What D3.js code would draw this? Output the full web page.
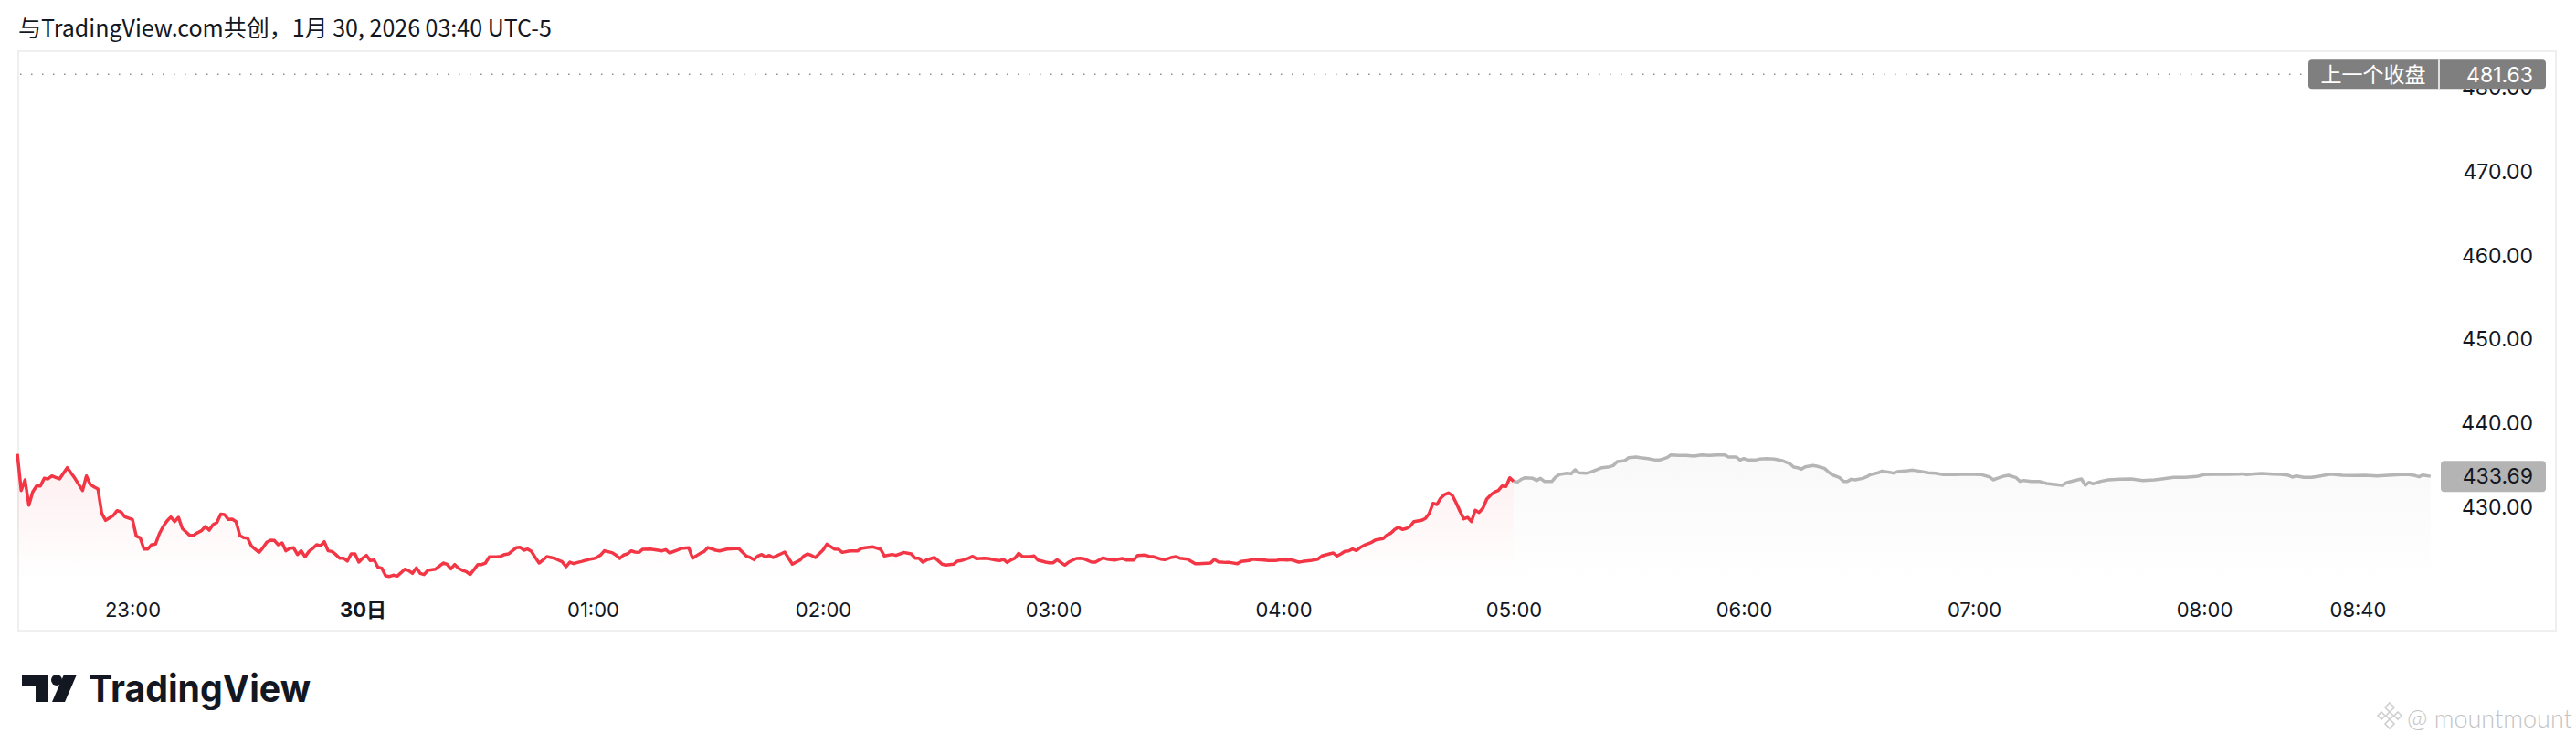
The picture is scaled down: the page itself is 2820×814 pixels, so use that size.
<!DOCTYPE html>
<html><head><meta charset="utf-8">
<script src="https://cdn.jsdelivr.net/npm/d3@7"></script>
<style>html,body{margin:0;padding:0;background:#fff;} svg{display:block;}</style>
</head><body>
<script>
// ---------------- data ----------------
const titleText = "与TradingView.com共创，1月 30, 2026 03:40 UTC-5";

const redTimes = ["22:30","22:31","22:32","22:33","22:34","22:35","22:36","22:37","22:38","22:39","22:40","22:41","22:43","22:45","22:47","22:48","22:49","22:50","22:51","22:52","22:53","22:55","22:56","22:57","22:58",
"23:00","23:01","23:02","23:03","23:04","23:05","23:06","23:07","23:08","23:09","23:10","23:11","23:12","23:13","23:15","23:16","23:17","23:18","23:19","23:20","23:21","23:22","23:23","23:24","23:25","23:26","23:27","23:28","23:29","23:30","23:31","23:33","23:34","23:35","23:36","23:37","23:38","23:39","23:40","23:41","23:42","23:43","23:44","23:45","23:46","23:47","23:48","23:49","23:50","23:51","23:52","23:53","23:54","23:55","23:56","23:57","23:58","23:59",
"00:00","00:01","00:02","00:03","00:04","00:05","00:06","00:07","00:08","00:09","00:10","00:11","00:12","00:13","00:14","00:15","00:16","00:17","00:19","00:20","00:21","00:22","00:23","00:24","00:25","00:26","00:27","00:28","00:29","00:30","00:31","00:32","00:33","00:35","00:36","00:37","00:38","00:40","00:41","00:42","00:43","00:44","00:45","00:46","00:47","00:48","00:50","00:51","00:52","00:53","00:54","00:55","00:56","00:57","00:59",
"01:00","01:01","01:02","01:03","01:05","01:06","01:07","01:08","01:09","01:10","01:11","01:12","01:13","01:15","01:17","01:18","01:19","01:20","01:22","01:23","01:25","01:26","01:28","01:29","01:30","01:32","01:33","01:35","01:37","01:38","01:40","01:41","01:42","01:43","01:44","01:45","01:46","01:47","01:49","01:50","01:52","01:54","01:55","01:56","01:57","01:58",
"02:00","02:01","02:03","02:04","02:05","02:07","02:09","02:10","02:11","02:13","02:15","02:16","02:18","02:19","02:20","02:21","02:23","02:24","02:25","02:26","02:27","02:29","02:30","02:31","02:32","02:34","02:35","02:36","02:38","02:39","02:40","02:42","02:43","02:45","02:46","02:47","02:48","02:49","02:50","02:51","02:52","02:54","02:55","02:56","02:58","02:59",
"03:00","03:01","03:03","03:04","03:06","03:07","03:08","03:10","03:11","03:13","03:14","03:16","03:17","03:18","03:19","03:21","03:22","03:24","03:25","03:26","03:28","03:29","03:31","03:32","03:33","03:35","03:37","03:38","03:40","03:41","03:42","03:43","03:45","03:46","03:48","03:49","03:51","03:52","03:53","03:55","03:56","03:58","03:59",
"04:01","04:02","04:04","04:05","04:07","04:09","04:10","04:12","04:13","04:14","04:15","04:16","04:17","04:18","04:19","04:20","04:21","04:23","04:24","04:26","04:27","04:28","04:29","04:30","04:31","04:32","04:33","04:34","04:36","04:37","04:38","04:39","04:40","04:41","04:42","04:43","04:44","04:45","04:46","04:47","04:48","04:49","04:50","04:51","04:52","04:53","04:54","04:55","04:56","04:57","04:58","04:59","05:00"];

const redValues = [436.36,432.00,433.27,430.25,431.82,432.54,432.54,433.45,433.38,433.74,433.56,433.38,434.72,433.45,432.00,433.74,432.72,432.43,432.18,429.27,428.44,429.02,429.60,429.45,428.87,
428.55,426.55,426.37,425.02,425.02,425.53,425.60,426.84,427.71,428.36,428.84,428.29,428.80,427.46,426.62,426.69,426.98,427.20,427.71,427.27,427.93,428.18,429.17,429.13,428.55,428.58,428.29,426.62,426.37,426.33,425.39,424.62,425.17,425.82,426.08,426.04,425.53,425.75,424.81,425.10,425.17,424.37,424.81,424.08,424.73,425.10,425.53,425.39,425.89,424.81,424.73,424.37,423.93,423.93,423.57,424.44,424.44,423.46,
423.93,424.26,423.64,423.71,422.84,422.73,421.82,421.75,421.90,421.79,422.19,422.62,422.44,422.12,422.77,422.12,421.97,422.48,422.62,422.99,423.35,423.20,422.66,423.17,422.73,422.48,422.33,421.97,422.55,423.17,423.17,423.35,424.08,424.08,424.15,424.37,424.44,425.17,425.24,424.88,425.02,424.73,424.00,423.35,423.71,424.11,423.93,423.71,423.50,422.91,423.46,423.28,423.42,423.53,423.79,
423.86,424.00,424.30,424.81,424.59,424.30,423.90,424.30,424.44,424.80,424.66,424.62,424.99,425.02,424.88,424.80,424.95,424.55,424.88,425.10,425.17,423.93,424.51,424.73,425.20,424.88,424.80,425.02,425.06,425.10,424.19,424.01,423.75,424.19,424.37,424.08,424.26,424.01,424.44,424.66,423.21,423.71,424.19,424.44,424.26,424.01,
424.91,425.60,425.02,424.99,424.62,424.80,424.80,425.10,425.17,425.28,424.99,424.19,424.37,424.26,424.44,424.62,424.44,423.93,423.93,423.46,423.72,424.01,423.64,423.21,423.10,423.21,423.57,423.64,423.93,424.15,423.86,423.93,423.90,423.71,423.64,423.79,423.42,423.72,423.93,424.51,424.11,424.11,424.19,423.71,423.46,423.39,
423.39,423.75,423.10,423.46,423.90,423.93,423.86,423.46,423.46,423.97,423.82,423.71,423.82,423.90,423.71,423.71,424.26,424.30,424.15,424.11,423.82,423.75,424.04,424.11,423.93,423.82,423.28,423.28,423.32,423.35,423.79,423.50,423.42,423.42,423.28,423.53,423.64,423.82,423.75,423.71,423.64,423.64,423.75,
423.71,423.75,423.46,423.53,423.64,423.82,424.19,424.44,424.55,424.19,424.44,424.73,424.80,425.02,424.84,425.20,425.46,425.82,426.11,426.26,426.69,426.91,427.35,427.64,427.35,427.46,427.71,428.29,428.44,428.66,429.27,430.47,430.33,431.09,431.52,431.71,431.45,430.54,429.53,428.62,428.80,428.29,429.64,429.38,429.89,430.98,431.45,431.82,432.00,432.54,432.47,433.52,433.09];

const grayTimes = ["05:00","05:01","05:02","05:03","05:05","05:06","05:07","05:08","05:10","05:11","05:12","05:14","05:15","05:16","05:17","05:19","05:20","05:22","05:23","05:25","05:26","05:27","05:29","05:30","05:32","05:33","05:35","05:37","05:38","05:40","05:41","05:43","05:45","05:47","05:49","05:51","05:53","05:55","05:56","05:58","05:59",
"06:00","06:01","06:03","06:04","06:06","06:08","06:10","06:12","06:13","06:14","06:15","06:16","06:18","06:19","06:21","06:22","06:23","06:25","06:26","06:27","06:28","06:29","06:31","06:32","06:33","06:35","06:36","06:38","06:39","06:40","06:42","06:44","06:46","06:48","06:50","06:52","06:55","06:57",
"07:00","07:02","07:04","07:05","07:06","07:08","07:09","07:11","07:12","07:13","07:15","07:17","07:19","07:21","07:23","07:24","07:26","07:28","07:29","07:30","07:31","07:33","07:35","07:38","07:41","07:44","07:47","07:49","07:52","07:55","07:58",
"08:00","08:02","08:06","08:09","08:10","08:11","08:13","08:15","08:18","08:20","08:22","08:23","08:24","08:26","08:28","08:30","08:33","08:36","08:39","08:42","08:45","08:48","08:51","08:53","08:55","08:56","08:57","08:59"];

const grayValues = [433.09,433.01,433.34,433.52,433.45,433.20,433.45,433.09,433.09,433.63,433.92,434.07,433.99,434.47,434.11,434.07,434.18,434.54,434.72,434.83,434.98,435.45,435.56,435.92,436.00,435.92,435.81,435.63,435.63,435.92,436.25,436.18,436.18,436.10,436.25,436.18,436.25,436.25,436.00,436.00,435.63,
435.81,435.63,435.63,435.74,435.81,435.74,435.56,435.20,434.80,434.72,434.54,434.83,434.98,434.90,434.65,434.25,433.89,433.52,433.09,433.09,433.34,433.27,433.45,433.63,433.89,434.11,434.32,434.18,434.07,434.25,434.32,434.43,434.29,434.11,434.07,433.89,433.89,433.92,
433.92,433.89,433.63,433.27,433.45,433.74,433.81,433.52,433.09,433.20,433.09,433.09,432.83,432.72,432.62,432.91,433.16,433.38,432.62,432.98,432.80,433.09,433.27,433.34,433.38,433.20,433.27,433.38,433.56,433.56,433.67,
433.89,433.92,433.92,433.96,433.99,433.89,433.99,434.03,433.96,433.92,433.81,433.60,433.74,433.56,433.56,433.71,433.96,433.81,433.78,433.81,433.74,433.81,433.89,433.92,433.78,433.63,433.85,433.69];

const yTickValues = [430, 440, 450, 460, 470, 480];
const xTickTimes  = ["23:00","00:00","01:00","02:00","03:00","04:00","05:00","06:00","07:00","08:00","08:40"];
const xTickLabels = ["23:00","30日","01:00","02:00","03:00","04:00","05:00","06:00","07:00","08:00","08:40"];
const prevClose = 481.63;
const prevCloseLabel = "上一个收盘";
const lastValue = 433.69;
const brandText = "TradingView";
const watermarkText = "@ mountmount";

// ---------------- helpers ----------------
function parseT(s){ const [h,m] = s.split(":").map(Number); return new Date(2026, 0, h >= 12 ? 29 : 30, h, m); }
const red = redTimes.map((t,i)=>({t:parseT(t), v:redValues[i]}));
const gray = grayTimes.map((t,i)=>({t:parseT(t), v:grayValues[i]}));

const W = 2820, H = 814;
const frame = {l:20, t:56, r:2798, b:690};
const plotBottom = 635;
const FONT = "Inter, 'Noto Sans CJK SC', sans-serif";
const INK = "#131722";

const svg = d3.select("body").append("svg").attr("width", W).attr("height", H);
const defs = svg.append("defs");

const x = d3.scaleTime().domain([parseT("22:30"), parseT("09:00")]).range([19, 2665]);
const y = d3.scaleLinear().domain([430, 480]).range([555, 96.25]);

// title
svg.append("text").attr("x", 20).attr("y", 40).attr("fill", INK)
  .style("font-family", "'Noto Sans CJK SC', sans-serif").style("font-size", "25px")
  .text(titleText);

// frame
svg.append("rect").attr("x", frame.l).attr("y", frame.t)
  .attr("width", frame.r - frame.l).attr("height", frame.b - frame.t)
  .attr("fill", "#fff").attr("stroke", "#efefef").attr("stroke-width", 2);

// gradients
function grad(id, color, o1){
  const g = defs.append("linearGradient").attr("id", id).attr("gradientUnits","userSpaceOnUse")
    .attr("x1",0).attr("x2",0).attr("y1", y(437)).attr("y2", plotBottom);
  g.append("stop").attr("offset","0%").attr("stop-color",color).attr("stop-opacity",o1);
  g.append("stop").attr("offset","100%").attr("stop-color",color).attr("stop-opacity",0);
}
grad("gRed", "#f23645", 0.09);
grad("gGray", "#9e9e9e", 0.07);

const area = d3.area().x(d=>x(d.t)).y0(plotBottom).y1(d=>y(d.v));
const line = d3.line().x(d=>x(d.t)).y(d=>y(d.v));

svg.append("path").datum(red).attr("d", area).attr("fill", "url(#gRed)");
svg.append("path").datum(gray).attr("d", area).attr("fill", "url(#gGray)");
svg.append("path").datum(gray).attr("d", line).attr("fill","none")
  .attr("stroke", "#b5b5b5").attr("stroke-width", 3.5).attr("stroke-linejoin","round");
svg.append("path").datum(red).attr("d", line).attr("fill","none")
  .attr("stroke", "#f23645").attr("stroke-width", 3.5).attr("stroke-linejoin","round");

// previous close dotted line
svg.append("line").attr("x1", frame.l + 2).attr("x2", 2526)
  .attr("y1", y(prevClose)).attr("y2", y(prevClose))
  .attr("stroke", "#8c8c8c").attr("stroke-width", 1.5).attr("stroke-dasharray", "1.5,10.5");

// y axis
const yAxis = svg.append("g").attr("transform", `translate(2773,0)`)
  .call(d3.axisRight(y).tickValues(yTickValues).tickFormat(d3.format(".2f")).tickSize(0));
yAxis.select(".domain").remove();
yAxis.selectAll("text").attr("x", 0).attr("text-anchor", "end")
  .attr("fill", INK).style("font-family", FONT).style("font-size", "23px");

// x axis
const xAxis = svg.append("g").attr("transform", `translate(0,667)`)
  .call(d3.axisBottom(x).tickValues(xTickTimes.map(parseT)).tickFormat((d,i)=>xTickLabels[i]).tickSize(0));
xAxis.select(".domain").remove();
xAxis.selectAll("text").attr("y", 0).attr("dy", "0.35em")
  .attr("fill", INK).style("font-family", FONT).style("font-size", "22px")
  .style("font-weight", (d,i)=> xTickLabels[i] === "30日" ? 700 : 400);

// previous close label
const pcY = y(prevClose);
const pc = svg.append("g");
pc.append("rect").attr("x", 2527).attr("y", pcY - 16).attr("width", 260).attr("height", 32)
  .attr("rx", 4).attr("fill", "#7f7f7f");
pc.append("line").attr("x1", 2670).attr("x2", 2670).attr("y1", pcY - 16).attr("y2", pcY + 16)
  .attr("stroke", "#fff").attr("stroke-width", 1.5);
pc.append("text").attr("x", 2598).attr("y", pcY).attr("dy", "0.36em").attr("text-anchor","middle")
  .attr("fill", "#fff").style("font-family", "'Noto Sans CJK SC', sans-serif").style("font-size","23px")
  .text(prevCloseLabel);
pc.append("text").attr("x", 2773).attr("y", pcY).attr("dy", "0.36em").attr("text-anchor","end")
  .attr("fill", "#fff").style("font-family", FONT).style("font-size","23px")
  .text(d3.format(".2f")(prevClose));

// last value label
const lvY = y(lastValue);
svg.append("rect").attr("x", 2672).attr("y", lvY - 17).attr("width", 115).attr("height", 34)
  .attr("rx", 4).attr("fill", "#b4b4b4");
svg.append("text").attr("x", 2773).attr("y", lvY).attr("dy", "0.36em").attr("text-anchor","end")
  .attr("fill", INK).style("font-family", FONT).style("font-size","23px")
  .text(d3.format(".2f")(lastValue));

// TradingView brand
const logo = svg.append("g").attr("fill", "#131722");
logo.append("path").attr("d", "M24,738 H53 V768 H39 V750 H24 Z");
logo.append("circle").attr("cx", 62).attr("cy", 744).attr("r", 6);
logo.append("path").attr("d", "M70,738 H84 L71,768 H57 Z");
svg.append("text").attr("x", 97).attr("y", 768).attr("fill", "#131722")
  .attr("textLength", 243).attr("lengthAdjust", "spacingAndGlyphs")
  .style("font-family", "Inter, sans-serif").style("font-weight", 700).style("font-size", "41px")
  .text(brandText);

// watermark
const wm = svg.append("g").attr("fill","none").attr("stroke","#cfcfcf").attr("stroke-width",1.6);
[[2616,774,5],[2607,783,4],[2625,783,4],[2616,783,4],[2616,792,5]].forEach(([cx,cy,s])=>{
  wm.append("path").attr("d", `M${cx},${cy-s} L${cx+s},${cy} L${cx},${cy+s} L${cx-s},${cy} Z`);
});
svg.append("text").attr("x", 2635).attr("y", 796).attr("fill", "#c4c4c4")
  .style("font-family", "Lato, sans-serif").style("font-weight", 300).style("font-size", "27px")
  .text(watermarkText);
</script>
</body></html>
